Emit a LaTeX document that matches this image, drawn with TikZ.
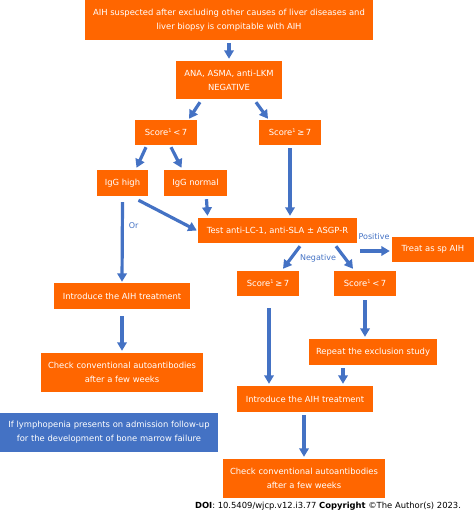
\documentclass[tikz,border=0pt]{standalone}
\usepackage{fontspec}
\setmainfont{DejaVu Sans}
\usetikzlibrary{arrows.meta, positioning}
\usepackage{xcolor}
\definecolor{flowOrange}{HTML}{FF6600}
\definecolor{flowBlue}{HTML}{4472C4}
\tikzset{
    stepbox/.style={rectangle, fill=flowOrange, text=white, align=center, inner sep=2pt, font=\fontsize{8.4}{14}\selectfont},
    notebox/.style={rectangle, fill=flowBlue, text=white, align=center, inner sep=2pt, font=\fontsize{8.4}{14}\selectfont},
    arrow/.style={-{Triangle[width=9.5pt,length=8.5pt]}, line width=3.2pt, draw=flowBlue},
    edgelabel/.style={text=flowBlue, font=\fontsize{8}{10}\selectfont, inner sep=0pt},
}
\newcommand{\scoreup}{Score\textsuperscript{\tiny 1}}

\begin{document}
\begin{tikzpicture}[x=1pt, y=-1pt]
    \useasboundingbox (0,0) rectangle (474,513);
    % boxes
    \node[stepbox, minimum width=288pt, minimum height=40pt] (suspect) at (229,20)
        {AIH suspected after excluding other causes of liver diseases and\\liver biopsy is compitable with AIH};
    \node[stepbox, minimum width=106pt, minimum height=38pt] (ana) at (229,80) {ANA, ASMA, anti-LKM\\NEGATIVE};
    \node[stepbox, minimum width=62pt, minimum height=25pt] (scoreLow) at (166,132.5) {\scoreup\,<\,7};
    \node[stepbox, minimum width=62pt, minimum height=25pt] (scoreHigh) at (290,132.5) {\scoreup\,≥\,7};
    \node[stepbox, minimum width=51pt, minimum height=26pt] (iggHigh) at (122.5,183) {IgG high};
    \node[stepbox, minimum width=63pt, minimum height=26pt] (iggNormal) at (195.5,183) {IgG normal};
    \node[stepbox, minimum width=159pt, minimum height=25pt] (test) at (277.5,230.5) {Test anti-LC-1, anti-SLA ± ASGP-R};
    \node[stepbox, minimum width=82pt, minimum height=25pt] (treatSp) at (433,249.5) {Treat as sp AIH};
    \node[stepbox, minimum width=62pt, minimum height=25pt] (negHigh) at (268,283.5) {\scoreup\,≥\,7};
    \node[stepbox, minimum width=62pt, minimum height=25pt] (negLow) at (365,283.5) {\scoreup\,<\,7};
    \node[stepbox, minimum width=136pt, minimum height=26pt] (introLeft) at (122,296) {Introduce the AIH treatment};
    \node[stepbox, minimum width=162pt, minimum height=39pt] (checkLeft) at (122,372.5) {Check conventional autoantibodies\\after a few weeks};
    \node[stepbox, minimum width=128pt, minimum height=26pt] (repeat) at (373,352) {Repeat the exclusion study};
    \node[stepbox, minimum width=136pt, minimum height=26pt] (introRight) at (305,399) {Introduce the AIH treatment};
    \node[notebox, minimum width=218pt, minimum height=39pt] (lympho) at (109,432.5) {If lymphopenia presents on admission follow-up\\for the development of bone marrow failure};
    \node[stepbox, minimum width=162pt, minimum height=39pt] (checkRight) at (304,478.5) {Check conventional autoantibodies\\after a few weeks};
    \node[font=\fontsize{8.4}{10}\selectfont, inner sep=0pt] (doi) at (328,506)
        {\textbf{DOI}: 10.5409/wjcp.v12.i3.77 \textbf{Copyright} ©The Author(s) 2023.};

    % connectors
    \draw[arrow] ([yshift=-3pt]suspect.south) -- ([yshift=2pt]ana.north);
    \draw[arrow] ([xshift=-29pt,yshift=-3pt]ana.south) -- ([xshift=23pt,yshift=1pt]scoreLow.north);
    \draw[arrow] ([xshift=27pt,yshift=-3pt]ana.south) -- ([xshift=-22pt,yshift=1pt]scoreHigh.north);
    \draw[arrow] ([xshift=-20pt,yshift=-2pt]scoreLow.south) -- ([xshift=14pt,yshift=2pt]iggHigh.north);
    \draw[arrow] ([xshift=5pt,yshift=-2pt]scoreLow.south) -- ([xshift=-14pt,yshift=2pt]iggNormal.north);
    \draw[arrow] ([xshift=11pt,yshift=-3pt]iggNormal.south) -- ([xshift=-70pt,yshift=2pt]test.north);
    \draw[arrow] ([yshift=-3pt]scoreHigh.south) -- ([xshift=12.5pt,yshift=2pt]test.north);
    \draw[arrow] ([xshift=16pt,yshift=-4pt]iggHigh.south) -- ([xshift=-1pt]test.west);
    \draw[arrow] ([yshift=-6pt]iggHigh.south) -- node[edgelabel, right=5pt, pos=0.3] (orLabel) {Or} ([yshift=1pt]introLeft.north);
    \draw[arrow] ([xshift=3pt,yshift=-20.5pt]test.east) -- ([xshift=-2pt,yshift=-1.5pt]treatSp.west);
    \node[edgelabel] (posLabel) at (374,237) {Positive};
    \draw[arrow] ([xshift=22.5pt,yshift=-3pt]test.south) -- ([xshift=15pt,yshift=2pt]negHigh.north);
    \draw[arrow] ([xshift=58.5pt,yshift=-3pt]test.south) -- ([xshift=-12pt,yshift=2pt]negLow.north);
    \node[edgelabel] (negLabel) at (318,258) {Negative};
    \draw[arrow] ([yshift=-7pt]introLeft.south) -- ([yshift=2pt]checkLeft.north);
    \draw[arrow] ([yshift=-4pt]negLow.south) -- ([xshift=-8pt,yshift=2pt]repeat.north);
    \draw[arrow] ([xshift=1pt,yshift=-12pt]negHigh.south) -- ([xshift=-36pt,yshift=2pt]introRight.north);
    \draw[arrow] ([xshift=-30pt,yshift=-3pt]repeat.south) -- ([xshift=38pt,yshift=2pt]introRight.north);
    \draw[arrow] ([xshift=-1pt,yshift=-3pt]introRight.south) -- ([yshift=2pt]checkRight.north);
\end{tikzpicture}
\end{document}
